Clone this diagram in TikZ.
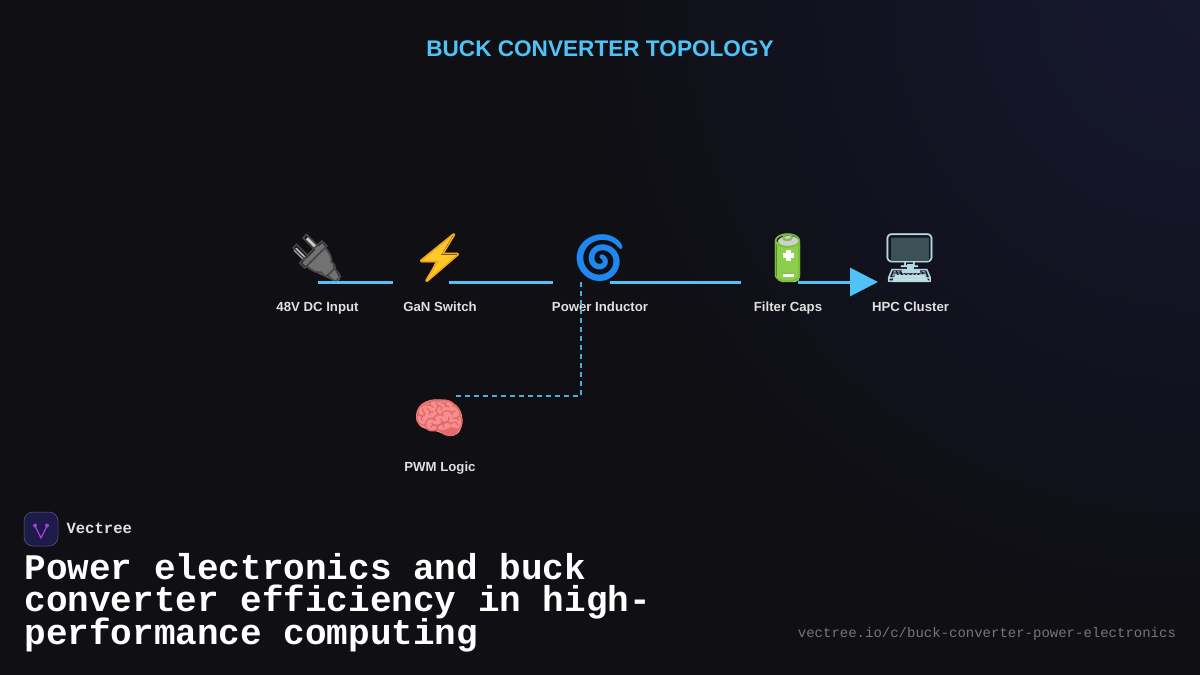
\documentclass[tikz,border=0pt]{standalone}
\usepackage{fontspec}
\usepackage{tikz}
\usetikzlibrary{arrows.meta}
\setmainfont{Liberation Sans}
\setmonofont{Liberation Mono}
\newfontfamily\emojifont{Noto Emoji}
\definecolor{ink}{HTML}{0F0F14}
\definecolor{navy}{HTML}{161830}
\definecolor{sky}{HTML}{4FC3F7}
\definecolor{label}{HTML}{E0E0E0}
\definecolor{urlgray}{HTML}{777777}
\definecolor{badge}{HTML}{1E1B4B}
\definecolor{sprout}{HTML}{A63FD6}
\definecolor{plugbody}{HTML}{727272}
\definecolor{prong}{HTML}{CFCFCF}
\definecolor{bolt}{HTML}{FFC928}
\definecolor{boltedge}{HTML}{F5A623}
\definecolor{swirl}{HTML}{1E88F0}
\definecolor{cell}{HTML}{8CCF4D}
\definecolor{celledge}{HTML}{7CBF3F}
\definecolor{screen}{HTML}{3C5058}
\definecolor{frame}{HTML}{B5D8E4}
\definecolor{brain}{HTML}{F98E8E}
\definecolor{fold}{HTML}{E26A6A}
\tikzset{sc/.style={x=1pt,y=-1pt,line width=1pt},
  icon/.style={font=\emojifont\fontsize{48}{48}\selectfont,inner sep=0pt},
  tag/.style={text=label,font=\bfseries\fontsize{13.2}{13.2}\selectfont,inner sep=0pt,anchor=base},
  headline/.style={white,font=\ttfamily\bfseries\fontsize{36}{36}\selectfont,inner sep=0pt,anchor=base west},
  flow/.style={sky,line width=3pt},
  ctrl/.style={sky!90!black,line width=2pt,dash pattern=on 5pt off 4pt}}

\begin{document}
\begin{tikzpicture}[sc]
  \useasboundingbox (0,0) rectangle (1200,675);
  \fill[ink] (0,0) rectangle (1200,675);
  \begin{scope}
    \clip (0,0) rectangle (1200,675);
    \shade[inner color=navy,outer color=ink] (1200,0) circle (620);
  \end{scope}
  % title
  \node[sky,font=\bfseries\fontsize{22.6}{22.6}\selectfont,inner sep=0pt] (title) at (600,48.5) {BUCK CONVERTER TOPOLOGY};
  % icon fills
  \draw[prong,line width=4pt] (307,238)--(317,248);\draw[prong,line width=4pt] (295,249)--(305,259);
  \fill[plugbody] (302,263)--(322,243)--(328,250)--(334,268)--(340,279)--(337,282)--(326,277)--(309,269)--cycle;
  \fill[bolt] (453,235)--(421,261)--(436,261)--(426,282)--(457,255)--(441,255)--cycle;
  \fill[cell,rounded corners=5] (777,238) rectangle (800,282);
  \fill[prong] (788.5,241) ellipse(10 and 5);
  \fill[frame] (907,264) rectangle (914,270);\fill[frame] (902,270) rectangle (920,273);
  \fill[frame!80!white] (895,275)--(925,275)--(929,282)--(892,282)--cycle;
  \fill[brain] (416,416) .. controls (416,402) and (432,397) .. (444,400) .. controls (458,402) and (464,412) .. (462,424) .. controls (461,433) and (455,437) .. (449,436) .. controls (442,434) and (438,431) .. (430,430) .. controls (420,428) and (416,424) .. (416,416) -- cycle;
  \fill[fold] (441,431) .. controls (447,429) and (455,428) .. (459,429) .. controls (457,434) and (453,437) .. (449,436) .. controls (446,435) and (444,433) .. (441,431) -- cycle;
  % icons
  \node[icon,text=black!72!white] (plug) at (317,258) {🔌};
  \node[icon,text=boltedge] (gan) at (440,258) {⚡};
  \node[icon,text=swirl] (coil) at (600,258) {🌀};
  \node[icon,text=celledge] (caps) at (788,258) {🔋};
  \node[icon,text=frame] (hpc) at (910,258) {🖥};
  \node[icon,text=fold,font=\emojifont\fontsize{42}{42}\selectfont] (pwm) at (439.5,418) {🧠};
  \fill[screen] (891,238) rectangle (929,261);
  \fill[white] (786,250) rectangle (791,261);\fill[white] (783,253) rectangle (794,258);
  \fill[white] (783,274) rectangle (794,277);
  % labels
  \node[tag] (plugtag) at (317.5,311) {48V DC Input};
  \node[tag] (gantag) at (440,311) {GaN Switch};
  \node[tag] (coiltag) at (600,311) {Power Inductor};
  \node[tag] (capstag) at (788,311) {Filter Caps};
  \node[tag] (hpctag) at (910.5,311) {HPC Cluster};
  \node[tag] (pwmtag) at (440,471) {PWM Logic};
  % main chain
  \draw[flow] ([shift={(1,24)}]plug.center)--([shift={(-47,24)}]gan.center);
  \draw[flow] ([shift={(9,24)}]gan.center)--([shift={(-47,24)}]coil.center);
  \draw[flow] ([shift={(10,24)}]coil.center)--([shift={(-47,24)}]caps.center);
  \draw[flow,-{Triangle[length=28pt,width=28pt]}] ([shift={(10,24)}]caps.center)--([shift={(-32,24)}]hpc.center);
  % feedback
  \draw[ctrl] ([shift={(-19,24)}]coil.center)--(581,395.5)--([shift={(14.5,-22.5)}]pwm.center);
  % brand
  \fill[badge,draw=badge!70!white,line width=.5pt,rounded corners=9] (24,512) rectangle (58,546);
  \draw[sprout,line width=1.3pt] (35,526)--(41,538)--(47,526);
  \fill[sprout] (35,525.5) circle(2);\fill[sprout] (47,525.5) circle(2);
  \node[text=label,font=\ttfamily\bfseries\fontsize{15.6}{15.6}\selectfont,inner sep=0pt,anchor=base west] (brand) at (66,533) {Vectree};
  \node[headline] (headone) at (24,579) {Power electronics and buck};
  \node[headline] (headtwo) at (24,611) {converter efficiency in high-};
  \node[headline] (headthree) at (24,644) {performance computing};
  \node[urlgray,font=\ttfamily\fontsize{14}{14}\selectfont,inner sep=0pt,anchor=base east] (url) at (1176.5,637) {vectree.io/c/buck-converter-power-electronics};
\end{tikzpicture}
\end{document}
